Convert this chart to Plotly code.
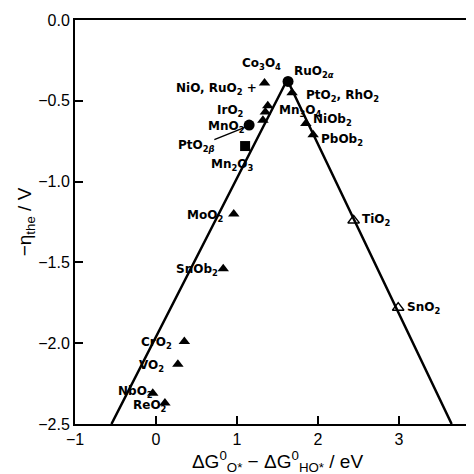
import plotly.graph_objects as go

# volcano lines
line_x = [-0.55, 1.62, 3.65]
line_y = [-2.5, -0.37, -2.5]

# filled triangles
tri_x = [1.34, 1.68, 1.35, 1.38, 1.32, 1.85, 1.94, 0.96, 0.83, 0.35, 0.27, -0.04, 0.11]
tri_y = [-0.39, -0.45, -0.57, -0.53, -0.62, -0.64, -0.71, -1.2, -1.54, -1.99, -2.13, -2.31, -2.37]
# open triangles
otri_x = [2.44, 2.99]
otri_y = [-1.24, -1.78]
# circles
circ_x = [1.63, 1.15]
circ_y = [-0.38, -0.65]
# squares
sq_x = [1.1]
sq_y = [-0.78]

labels = [
    ("Co<sub>3</sub>O<sub>4</sub>", 1.3, -0.27),
    ("NiO, RuO<sub>2</sub> +", 0.75, -0.43),
    ("RuO<sub>2</sub><i><sub>α</sub></i>", 1.95, -0.32),
    ("PtO<sub>2</sub>, RhO<sub>2</sub>", 2.3, -0.47),
    ("Mn<sub>3</sub>O<sub>4</sub>", 1.78, -0.56),
    ("IrO<sub>2</sub>", 0.92, -0.56),
    ("MnO<sub>2</sub>", 0.87, -0.66),
    ("PtO<sub>2</sub><i><sub>β</sub></i>", 0.5, -0.78),
    ("Mn<sub>2</sub>O<sub>3</sub>", 0.95, -0.9),
    ("NiOb<sub>2</sub>", 2.18, -0.62),
    ("PbOb<sub>2</sub>", 2.3, -0.74),
    ("MoO<sub>2</sub>", 0.6, -1.21),
    ("TiO<sub>2</sub>", 2.72, -1.24),
    ("SnOb<sub>2</sub>", 0.5, -1.55),
    ("SnO<sub>2</sub>", 3.3, -1.78),
    ("CrO<sub>2</sub>", 0.0, -2.0),
    ("VO<sub>2</sub>", -0.05, -2.14),
    ("NbO<sub>2</sub>", -0.25, -2.3),
    ("ReO<sub>2</sub>", -0.08, -2.39),
]

fig = go.Figure()
fig.add_trace(go.Scatter(x=line_x, y=line_y, mode="lines", line=dict(color="black", width=2.5)))
fig.add_trace(go.Scatter(x=[0.72, 1.12], y=[-0.74, -0.66], mode="lines", line=dict(color="black", width=1.5)))
fig.add_trace(go.Scatter(x=tri_x, y=tri_y, mode="markers",
                         marker=dict(symbol="triangle-up", size=10, color="black")))
fig.add_trace(go.Scatter(x=otri_x, y=otri_y, mode="markers",
                         marker=dict(symbol="triangle-up-open", size=10, color="black", line_width=1.5)))
fig.add_trace(go.Scatter(x=circ_x, y=circ_y, mode="markers",
                         marker=dict(symbol="circle", size=11, color="black")))
fig.add_trace(go.Scatter(x=sq_x, y=sq_y, mode="markers",
                         marker=dict(symbol="square", size=10, color="black")))

for text, x, y in labels:
    fig.add_annotation(x=x, y=y, text="<b>" + text + "</b>", showarrow=False,
                       font=dict(size=12, color="black", family="DejaVu Sans"))

fig.update_layout(
    width=474, height=474, showlegend=False,
    plot_bgcolor="white", paper_bgcolor="white",
    margin=dict(l=67, r=0, t=12, b=58),
    font=dict(family="Liberation Sans", size=16, color="black"),
)
fig.update_xaxes(range=[-1, 4], dtick=1, showgrid=False, zeroline=False,
                 showline=True, linecolor="black", linewidth=2, mirror=True,
                 ticks="inside", ticklen=8, tickwidth=2, tickcolor="black",
                 title=dict(text="ΔG<sup>0</sup><sub>O*</sub> − ΔG<sup>0</sup><sub>HO*</sub> / eV", standoff=2))
fig.update_yaxes(range=[-2.5, 0], dtick=0.5, tickformat=".1f", showgrid=False, zeroline=False,
                 showline=True, linecolor="black", linewidth=2, mirror=True,
                 ticks="inside", ticklen=8, tickwidth=2, tickcolor="black",
                 title=dict(text="−η<sub>the</sub> / V", standoff=2))

fig.write_html("out.html")
